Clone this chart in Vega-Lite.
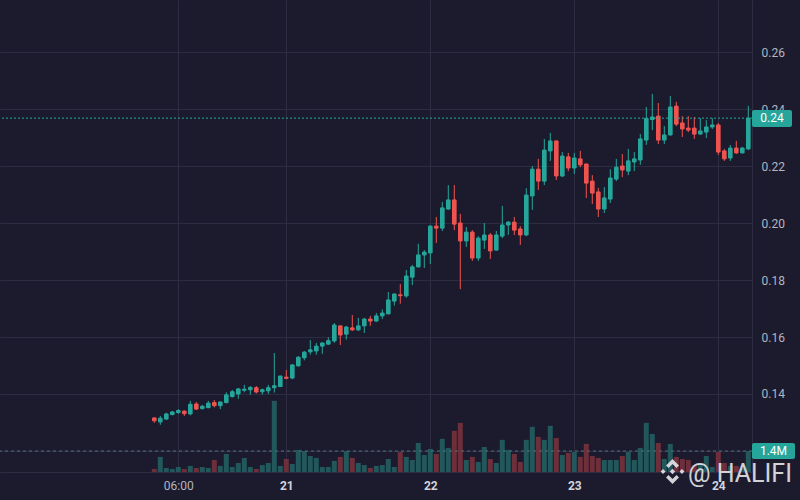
{
  "$schema": "https://vega.github.io/schema/vega-lite/v6.json",
  "autosize": {"type": "none"},
  "width": 752,
  "height": 472,
  "padding": {"left": 0, "top": 0, "right": 48, "bottom": 28},
  "background": "#1c1b2e",
  "datasets": {
    "candles": [
      {"t": "2023-03-20T02:00:00Z", "o": 0.1316, "h": 0.1318, "l": 0.1299, "c": 0.1306, "v": 200000},
      {"t": "2023-03-20T03:00:00Z", "o": 0.1302, "h": 0.1323, "l": 0.1292, "c": 0.1315, "v": 1020000},
      {"t": "2023-03-20T04:00:00Z", "o": 0.1312, "h": 0.1334, "l": 0.1309, "c": 0.1330, "v": 270000},
      {"t": "2023-03-20T05:00:00Z", "o": 0.1328, "h": 0.1340, "l": 0.1325, "c": 0.1337, "v": 200000},
      {"t": "2023-03-20T06:00:00Z", "o": 0.1335, "h": 0.1347, "l": 0.1330, "c": 0.1342, "v": 340000},
      {"t": "2023-03-20T07:00:00Z", "o": 0.1340, "h": 0.1342, "l": 0.1323, "c": 0.1331, "v": 200000},
      {"t": "2023-03-20T08:00:00Z", "o": 0.1330, "h": 0.1376, "l": 0.1325, "c": 0.1364, "v": 410000},
      {"t": "2023-03-20T09:00:00Z", "o": 0.1365, "h": 0.1372, "l": 0.1344, "c": 0.1347, "v": 270000},
      {"t": "2023-03-20T10:00:00Z", "o": 0.1349, "h": 0.1362, "l": 0.1345, "c": 0.1357, "v": 340000},
      {"t": "2023-03-20T11:00:00Z", "o": 0.1352, "h": 0.1376, "l": 0.1350, "c": 0.1368, "v": 270000},
      {"t": "2023-03-20T12:00:00Z", "o": 0.1370, "h": 0.1379, "l": 0.1353, "c": 0.1359, "v": 810000},
      {"t": "2023-03-20T13:00:00Z", "o": 0.1359, "h": 0.1373, "l": 0.1347, "c": 0.1372, "v": 410000},
      {"t": "2023-03-20T14:00:00Z", "o": 0.1370, "h": 0.1406, "l": 0.1367, "c": 0.1397, "v": 1220000},
      {"t": "2023-03-20T15:00:00Z", "o": 0.1391, "h": 0.1414, "l": 0.1388, "c": 0.1408, "v": 340000},
      {"t": "2023-03-20T16:00:00Z", "o": 0.1400, "h": 0.1419, "l": 0.1383, "c": 0.1418, "v": 610000},
      {"t": "2023-03-20T17:00:00Z", "o": 0.1413, "h": 0.1432, "l": 0.1406, "c": 0.1417, "v": 950000},
      {"t": "2023-03-20T18:00:00Z", "o": 0.1415, "h": 0.1428, "l": 0.1397, "c": 0.1423, "v": 340000},
      {"t": "2023-03-20T19:00:00Z", "o": 0.1422, "h": 0.1428, "l": 0.1402, "c": 0.1407, "v": 200000},
      {"t": "2023-03-20T20:00:00Z", "o": 0.1408, "h": 0.1419, "l": 0.1398, "c": 0.1415, "v": 470000},
      {"t": "2023-03-20T21:00:00Z", "o": 0.1411, "h": 0.1432, "l": 0.1400, "c": 0.1422, "v": 610000},
      {"t": "2023-03-20T22:00:00Z", "o": 0.1422, "h": 0.1544, "l": 0.1405, "c": 0.1429, "v": 4810000},
      {"t": "2023-03-20T23:00:00Z", "o": 0.1426, "h": 0.1464, "l": 0.1425, "c": 0.1463, "v": 410000},
      {"t": "2023-03-21T00:00:00Z", "o": 0.1459, "h": 0.1484, "l": 0.1452, "c": 0.1455, "v": 880000},
      {"t": "2023-03-21T01:00:00Z", "o": 0.1456, "h": 0.1505, "l": 0.1452, "c": 0.1502, "v": 540000},
      {"t": "2023-03-21T02:00:00Z", "o": 0.1499, "h": 0.1533, "l": 0.1496, "c": 0.1529, "v": 1490000},
      {"t": "2023-03-21T03:00:00Z", "o": 0.1527, "h": 0.1551, "l": 0.1518, "c": 0.1547, "v": 1420000},
      {"t": "2023-03-21T04:00:00Z", "o": 0.1548, "h": 0.1589, "l": 0.1538, "c": 0.1555, "v": 1080000},
      {"t": "2023-03-21T05:00:00Z", "o": 0.1551, "h": 0.1579, "l": 0.1538, "c": 0.1568, "v": 950000},
      {"t": "2023-03-21T06:00:00Z", "o": 0.1568, "h": 0.1582, "l": 0.1541, "c": 0.1579, "v": 340000},
      {"t": "2023-03-21T07:00:00Z", "o": 0.1575, "h": 0.1599, "l": 0.1572, "c": 0.1587, "v": 340000},
      {"t": "2023-03-21T08:00:00Z", "o": 0.1586, "h": 0.1649, "l": 0.1580, "c": 0.1642, "v": 750000},
      {"t": "2023-03-21T09:00:00Z", "o": 0.1639, "h": 0.1640, "l": 0.1572, "c": 0.1607, "v": 1020000},
      {"t": "2023-03-21T10:00:00Z", "o": 0.1610, "h": 0.1639, "l": 0.1591, "c": 0.1635, "v": 1420000},
      {"t": "2023-03-21T11:00:00Z", "o": 0.1632, "h": 0.1677, "l": 0.1621, "c": 0.1625, "v": 950000},
      {"t": "2023-03-21T12:00:00Z", "o": 0.1625, "h": 0.1667, "l": 0.1621, "c": 0.1639, "v": 610000},
      {"t": "2023-03-21T13:00:00Z", "o": 0.1639, "h": 0.1667, "l": 0.1614, "c": 0.1663, "v": 470000},
      {"t": "2023-03-21T14:00:00Z", "o": 0.1663, "h": 0.1674, "l": 0.1639, "c": 0.1656, "v": 270000},
      {"t": "2023-03-21T15:00:00Z", "o": 0.1656, "h": 0.1684, "l": 0.1653, "c": 0.1674, "v": 410000},
      {"t": "2023-03-21T16:00:00Z", "o": 0.1674, "h": 0.1697, "l": 0.1663, "c": 0.1684, "v": 470000},
      {"t": "2023-03-21T17:00:00Z", "o": 0.1681, "h": 0.1758, "l": 0.1681, "c": 0.1730, "v": 880000},
      {"t": "2023-03-21T18:00:00Z", "o": 0.1726, "h": 0.1752, "l": 0.1710, "c": 0.1751, "v": 340000},
      {"t": "2023-03-21T19:00:00Z", "o": 0.1748, "h": 0.1786, "l": 0.1717, "c": 0.1745, "v": 1350000},
      {"t": "2023-03-21T20:00:00Z", "o": 0.1744, "h": 0.1835, "l": 0.1738, "c": 0.1814, "v": 1020000},
      {"t": "2023-03-21T21:00:00Z", "o": 0.1810, "h": 0.1853, "l": 0.1782, "c": 0.1846, "v": 810000},
      {"t": "2023-03-21T22:00:00Z", "o": 0.1846, "h": 0.1927, "l": 0.1844, "c": 0.1888, "v": 1960000},
      {"t": "2023-03-21T23:00:00Z", "o": 0.1888, "h": 0.1905, "l": 0.1842, "c": 0.1898, "v": 1150000},
      {"t": "2023-03-22T00:00:00Z", "o": 0.1895, "h": 0.1993, "l": 0.1856, "c": 0.1989, "v": 1560000},
      {"t": "2023-03-22T01:00:00Z", "o": 0.1989, "h": 0.2021, "l": 0.1930, "c": 0.1982, "v": 1220000},
      {"t": "2023-03-22T02:00:00Z", "o": 0.1982, "h": 0.2074, "l": 0.1972, "c": 0.2053, "v": 2240000},
      {"t": "2023-03-22T03:00:00Z", "o": 0.2049, "h": 0.2133, "l": 0.2046, "c": 0.2081, "v": 1630000},
      {"t": "2023-03-22T04:00:00Z", "o": 0.2081, "h": 0.2133, "l": 0.1975, "c": 0.1996, "v": 2780000},
      {"t": "2023-03-22T05:00:00Z", "o": 0.2000, "h": 0.2032, "l": 0.1768, "c": 0.1937, "v": 3320000},
      {"t": "2023-03-22T06:00:00Z", "o": 0.1937, "h": 0.1986, "l": 0.1916, "c": 0.1968, "v": 810000},
      {"t": "2023-03-22T07:00:00Z", "o": 0.1968, "h": 0.1975, "l": 0.1867, "c": 0.1877, "v": 1020000},
      {"t": "2023-03-22T08:00:00Z", "o": 0.1877, "h": 0.1954, "l": 0.1867, "c": 0.1947, "v": 680000},
      {"t": "2023-03-22T09:00:00Z", "o": 0.1940, "h": 0.2000, "l": 0.1909, "c": 0.1958, "v": 1690000},
      {"t": "2023-03-22T10:00:00Z", "o": 0.1958, "h": 0.1965, "l": 0.1874, "c": 0.1902, "v": 880000},
      {"t": "2023-03-22T11:00:00Z", "o": 0.1905, "h": 0.1972, "l": 0.1903, "c": 0.1958, "v": 610000},
      {"t": "2023-03-22T12:00:00Z", "o": 0.1954, "h": 0.2060, "l": 0.1947, "c": 0.1993, "v": 2170000},
      {"t": "2023-03-22T13:00:00Z", "o": 0.1993, "h": 0.2007, "l": 0.1958, "c": 0.2003, "v": 1490000},
      {"t": "2023-03-22T14:00:00Z", "o": 0.2003, "h": 0.2021, "l": 0.1958, "c": 0.1975, "v": 1220000},
      {"t": "2023-03-22T15:00:00Z", "o": 0.1979, "h": 0.1989, "l": 0.1923, "c": 0.1958, "v": 680000},
      {"t": "2023-03-22T16:00:00Z", "o": 0.1958, "h": 0.2122, "l": 0.1954, "c": 0.2098, "v": 2170000},
      {"t": "2023-03-22T17:00:00Z", "o": 0.2095, "h": 0.2200, "l": 0.2046, "c": 0.2189, "v": 3050000},
      {"t": "2023-03-22T18:00:00Z", "o": 0.2189, "h": 0.2225, "l": 0.2116, "c": 0.2147, "v": 2370000},
      {"t": "2023-03-22T19:00:00Z", "o": 0.2147, "h": 0.2295, "l": 0.2133, "c": 0.2256, "v": 2170000},
      {"t": "2023-03-22T20:00:00Z", "o": 0.2253, "h": 0.2316, "l": 0.2218, "c": 0.2288, "v": 3120000},
      {"t": "2023-03-22T21:00:00Z", "o": 0.2288, "h": 0.2289, "l": 0.2151, "c": 0.2165, "v": 2300000},
      {"t": "2023-03-22T22:00:00Z", "o": 0.2165, "h": 0.2249, "l": 0.2161, "c": 0.2235, "v": 1150000},
      {"t": "2023-03-22T23:00:00Z", "o": 0.2232, "h": 0.2246, "l": 0.2182, "c": 0.2193, "v": 1290000},
      {"t": "2023-03-23T00:00:00Z", "o": 0.2193, "h": 0.2246, "l": 0.2172, "c": 0.2228, "v": 1350000},
      {"t": "2023-03-23T01:00:00Z", "o": 0.2225, "h": 0.2253, "l": 0.2196, "c": 0.2204, "v": 1020000},
      {"t": "2023-03-23T02:00:00Z", "o": 0.2207, "h": 0.2208, "l": 0.2088, "c": 0.2140, "v": 1900000},
      {"t": "2023-03-23T03:00:00Z", "o": 0.2147, "h": 0.2168, "l": 0.2067, "c": 0.2105, "v": 1080000},
      {"t": "2023-03-23T04:00:00Z", "o": 0.2109, "h": 0.2123, "l": 0.2021, "c": 0.2049, "v": 950000},
      {"t": "2023-03-23T05:00:00Z", "o": 0.2049, "h": 0.2126, "l": 0.2035, "c": 0.2088, "v": 810000},
      {"t": "2023-03-23T06:00:00Z", "o": 0.2084, "h": 0.2189, "l": 0.2070, "c": 0.2158, "v": 810000},
      {"t": "2023-03-23T07:00:00Z", "o": 0.2154, "h": 0.2225, "l": 0.2147, "c": 0.2196, "v": 810000},
      {"t": "2023-03-23T08:00:00Z", "o": 0.2200, "h": 0.2242, "l": 0.2161, "c": 0.2186, "v": 1080000},
      {"t": "2023-03-23T09:00:00Z", "o": 0.2182, "h": 0.2260, "l": 0.2168, "c": 0.2218, "v": 1350000},
      {"t": "2023-03-23T10:00:00Z", "o": 0.2214, "h": 0.2249, "l": 0.2182, "c": 0.2225, "v": 810000},
      {"t": "2023-03-23T11:00:00Z", "o": 0.2221, "h": 0.2312, "l": 0.2204, "c": 0.2295, "v": 1630000},
      {"t": "2023-03-23T12:00:00Z", "o": 0.2291, "h": 0.2407, "l": 0.2274, "c": 0.2367, "v": 3320000},
      {"t": "2023-03-23T13:00:00Z", "o": 0.2363, "h": 0.2453, "l": 0.2326, "c": 0.2372, "v": 2570000},
      {"t": "2023-03-23T14:00:00Z", "o": 0.2375, "h": 0.2421, "l": 0.2277, "c": 0.2291, "v": 1960000},
      {"t": "2023-03-23T15:00:00Z", "o": 0.2291, "h": 0.2340, "l": 0.2277, "c": 0.2309, "v": 880000},
      {"t": "2023-03-23T16:00:00Z", "o": 0.2309, "h": 0.2446, "l": 0.2307, "c": 0.2407, "v": 1900000},
      {"t": "2023-03-23T17:00:00Z", "o": 0.2410, "h": 0.2425, "l": 0.2340, "c": 0.2347, "v": 1020000},
      {"t": "2023-03-23T18:00:00Z", "o": 0.2351, "h": 0.2375, "l": 0.2302, "c": 0.2330, "v": 880000},
      {"t": "2023-03-23T19:00:00Z", "o": 0.2333, "h": 0.2375, "l": 0.2319, "c": 0.2326, "v": 810000},
      {"t": "2023-03-23T20:00:00Z", "o": 0.2333, "h": 0.2372, "l": 0.2295, "c": 0.2312, "v": 470000},
      {"t": "2023-03-23T21:00:00Z", "o": 0.2312, "h": 0.2368, "l": 0.2310, "c": 0.2323, "v": 540000},
      {"t": "2023-03-23T22:00:00Z", "o": 0.2319, "h": 0.2361, "l": 0.2298, "c": 0.2337, "v": 1080000},
      {"t": "2023-03-23T23:00:00Z", "o": 0.2337, "h": 0.2368, "l": 0.2330, "c": 0.2344, "v": 340000},
      {"t": "2023-03-24T00:00:00Z", "o": 0.2344, "h": 0.2351, "l": 0.2239, "c": 0.2249, "v": 1350000},
      {"t": "2023-03-24T01:00:00Z", "o": 0.2253, "h": 0.2260, "l": 0.2218, "c": 0.2225, "v": 610000},
      {"t": "2023-03-24T02:00:00Z", "o": 0.2228, "h": 0.2274, "l": 0.2218, "c": 0.2263, "v": 410000},
      {"t": "2023-03-24T03:00:00Z", "o": 0.2263, "h": 0.2288, "l": 0.2242, "c": 0.2246, "v": 410000},
      {"t": "2023-03-24T04:00:00Z", "o": 0.2246, "h": 0.2267, "l": 0.2244, "c": 0.2263, "v": 270000},
      {"t": "2023-03-24T05:00:00Z", "o": 0.2260, "h": 0.2411, "l": 0.2256, "c": 0.2368, "v": 1420000}
    ],
    "one": [{}]
  },
  "layer": [
    {
      "data": {"name": "candles"},
      "layer": [
        {
          "mark": {"type": "bar", "size": 5},
          "encoding": {
            "x": {
              "field": "t",
              "type": "temporal",
              "scale": {
                "type": "utc",
                "padding": 0,
                "domain": [
                  {"year": 2023, "month": 3, "date": 19, "hours": 0, "minutes": 17, "utc": true},
                  {"year": 2023, "month": 3, "date": 24, "hours": 5, "minutes": 37, "utc": true}
                ]
              },
              "axis": {
                "values": [
                  {"year": 2023, "month": 3, "date": 20, "hours": 6, "utc": true},
                  {"year": 2023, "month": 3, "date": 21, "utc": true},
                  {"year": 2023, "month": 3, "date": 22, "utc": true},
                  {"year": 2023, "month": 3, "date": 23, "utc": true},
                  {"year": 2023, "month": 3, "date": 24, "utc": true}
                ],
                "labelExpr": "utchours(datum.value) == 0 ? utcFormat(datum.value, '%-d') : utcFormat(datum.value, '%H:%M')",
                "labelFontWeight": {"expr": "utchours(datum.value) == 0 ? 'bold' : 'normal'"},
                "labelColor": {"expr": "utchours(datum.value) == 0 ? '#d1d4dc' : '#b2b5be'"},
                "labelPadding": 8,
                "labelFlush": false,
                "labelOverlap": false,
                "grid": true
              }
            },
            "y": {
              "field": "v",
              "type": "quantitative",
              "scale": {"domain": [0, 31900000], "nice": false},
              "axis": null
            },
            "color": {
              "condition": {"test": "datum.c >= datum.o", "value": "#22575c"},
              "value": "#6e2f3b"
            }
          }
        },
        {
          "data": {"name": "one"},
          "mark": {"type": "rule", "strokeDash": [3, 3], "strokeWidth": 1, "color": "#4d7377"},
          "encoding": {"y": {"datum": 1420000}}
        },
        {
          "data": {"name": "one"},
          "mark": {"type": "rect", "color": "#26a69a", "cornerRadius": 2},
          "encoding": {
            "x": {"datum": {"year": 2023, "month": 3, "date": 24, "hours": 5, "minutes": 37, "utc": true}, "type": "temporal"},
            "x2": {"datum": {"year": 2023, "month": 3, "date": 24, "hours": 12, "minutes": 47, "utc": true}},
            "y": {"datum": 1960000, "type": "quantitative"},
            "y2": {"datum": 880000}
          }
        },
        {
          "data": {"name": "one"},
          "mark": {"type": "text", "text": "1.4M", "color": "#ffffff", "fontSize": 12, "align": "center", "baseline": "middle"},
          "encoding": {
            "x": {"datum": {"year": 2023, "month": 3, "date": 24, "hours": 9, "minutes": 12, "utc": true}, "type": "temporal"},
            "y": {"datum": 1420000, "type": "quantitative"}
          }
        }
      ]
    },
    {
      "data": {"name": "candles"},
      "layer": [
        {
          "mark": {"type": "rule", "strokeWidth": 1},
          "encoding": {
            "x": {"field": "t", "type": "temporal"},
            "y": {
              "field": "l",
              "type": "quantitative",
              "scale": {"domain": [0.11263, 0.27825], "nice": false, "zero": false},
              "axis": {
                "orient": "right",
                "values": [0.12, 0.14, 0.16, 0.18, 0.2, 0.22, 0.24, 0.26],
                "format": ".2f",
                "labelPadding": 9,
                "labelOverlap": false,
                "grid": true
              }
            },
            "y2": {"field": "h"},
            "color": {
              "condition": {"test": "datum.c >= datum.o", "value": "#26a69a"},
              "value": "#ef5350"
            }
          }
        },
        {
          "mark": {"type": "bar", "size": 3.6, "strokeWidth": 1},
          "encoding": {
            "x": {"field": "t", "type": "temporal"},
            "y": {"field": "o", "type": "quantitative"},
            "y2": {"field": "c"},
            "color": {
              "condition": {"test": "datum.c >= datum.o", "value": "#26a69a"},
              "value": "#ef5350"
            },
            "stroke": {
              "condition": {"test": "datum.c >= datum.o", "value": "#26a69a"},
              "value": "#ef5350"
            }
          }
        },
        {
          "data": {"name": "one"},
          "mark": {"type": "rule", "strokeDash": [2, 2], "strokeWidth": 1, "color": "#26a69a"},
          "encoding": {"y": {"datum": 0.2368, "type": "quantitative"}}
        },
        {
          "data": {"name": "one"},
          "mark": {"type": "rect", "color": "#26a69a", "cornerRadius": 2},
          "encoding": {
            "x": {"datum": {"year": 2023, "month": 3, "date": 24, "hours": 5, "minutes": 37, "utc": true}, "type": "temporal"},
            "x2": {"datum": {"year": 2023, "month": 3, "date": 24, "hours": 12, "minutes": 17, "utc": true}},
            "y": {"datum": 0.23965, "type": "quantitative"},
            "y2": {"datum": 0.23368}
          }
        },
        {
          "data": {"name": "one"},
          "mark": {"type": "text", "text": "0.24", "color": "#ffffff", "fontSize": 12, "align": "center", "baseline": "middle"},
          "encoding": {
            "x": {"datum": {"year": 2023, "month": 3, "date": 24, "hours": 8, "minutes": 57, "utc": true}, "type": "temporal"},
            "y": {"datum": 0.2368, "type": "quantitative"}
          }
        },
        {
          "data": {"name": "one"},
          "mark": {
            "type": "point",
            "shape": "M0,-1 L0.52,-0.48 L0.32,-0.28 L0,-0.6 L-0.32,-0.28 L-0.52,-0.48 Z M0,1 L0.52,0.48 L0.32,0.28 L0,0.6 L-0.32,0.28 L-0.52,0.48 Z M-0.96,0 L-0.76,-0.2 L-0.56,0 L-0.76,0.2 Z M0.96,0 L0.76,-0.2 L0.56,0 L0.76,0.2 Z M0,-0.22 L0.22,0 L0,0.22 L-0.22,0 Z",
            "filled": true,
            "size": 620,
            "color": "#e2e2e6",
            "opacity": 0.92,
            "strokeWidth": 0
          },
          "encoding": {
            "x": {"datum": {"year": 2023, "month": 3, "date": 23, "hours": 16, "minutes": 22, "utc": true}, "type": "temporal"},
            "y": {"datum": 0.11281, "type": "quantitative"}
          }
        },
        {
          "data": {"name": "one"},
          "mark": {"type": "text", "text": "@ HALIFI", "color": "#e2e2e6", "opacity": 0.92, "fontSize": 25, "align": "right", "baseline": "alphabetic"},
          "encoding": {
            "x": {"datum": {"year": 2023, "month": 3, "date": 24, "hours": 12, "minutes": 17, "utc": true}, "type": "temporal"},
            "y": {"datum": 0.10912, "type": "quantitative"}
          }
        }
      ]
    }
  ],
  "resolve": {"scale": {"y": "independent"}, "axis": {"y": "independent"}},
  "config": {
    "view": {"stroke": null},
    "font": "Roboto",
    "axis": {
      "title": null,
      "ticks": false,
      "grid": true,
      "gridColor": "#2d2c42",
      "gridWidth": 1,
      "domain": true,
      "domainColor": "#2d2c42",
      "labelColor": "#b2b5be",
      "labelFontSize": 12,
      "labelFont": "Roboto"
    }
  }
}
